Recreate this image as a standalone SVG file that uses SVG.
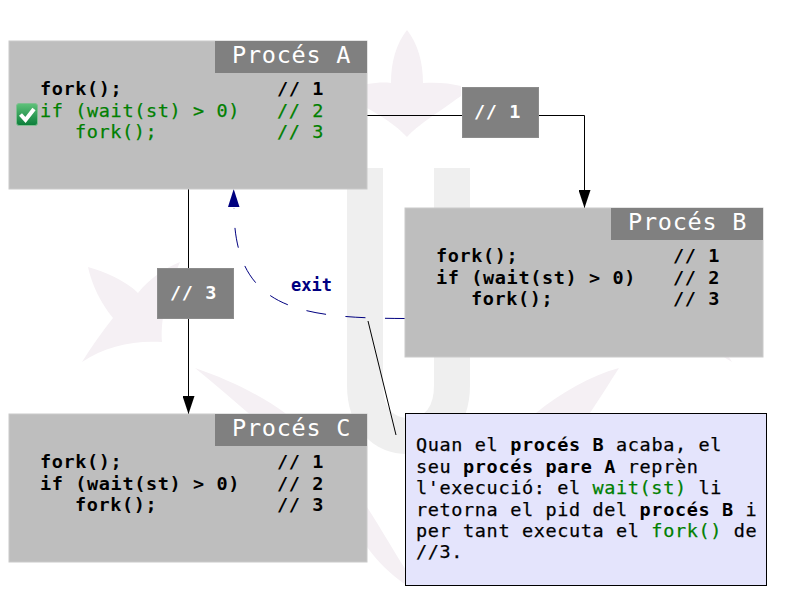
<svg xmlns="http://www.w3.org/2000/svg" width="786" height="609" viewBox="0 0 786 609">
<style>
text{font-family:"DejaVu Sans Mono","Liberation Mono",monospace;white-space:pre}
.box{fill:#bebebe;stroke:#cacaca;stroke-width:1}
.title{fill:#808080}
.tt{fill:#fff;font-size:23.500px;letter-spacing:.75px}
.c{font-size:18.500px;letter-spacing:.63px;font-weight:700;fill:#000}
.g{font-weight:400;fill:#008000;stroke:#008000;stroke-width:.25px}
.lab{fill:#808080;stroke:#8c8c8c;stroke-width:1}
.lt{fill:#fff;font-size:18.500px;letter-spacing:.63px;font-weight:700}
.wm{fill:#f5f0f4}
.u{fill:none;stroke:#efefef;stroke-width:36}
.n{font-size:18.500px;letter-spacing:.63px;fill:#000;stroke:#000;stroke-width:.25px}
.b{font-weight:700;stroke:none}
</style>
<defs>
<marker id="ab" markerUnits="userSpaceOnUse" markerWidth="18" markerHeight="12" refX="18" refY="6" orient="auto"><path d="M0,0L18,6L0,12Z" fill="#000"/></marker>
<linearGradient id="gr" x1="0" y1="0" x2="0" y2="1"><stop offset="0" stop-color="#5fc27a"/><stop offset="1" stop-color="#0b7d3a"/></linearGradient>
</defs>
<g id="watermark">
<path class="u" d="M365,168V385C365,420 385,436 408,436C432,436 452,420 452,385V168"/>
<path class="wm" d="M407,30C396,44 391,62 391,83C383,82 375,83 367,84V108C381,116 396,125 407,137C418,125 433,116 461,96L461,86C450,83 436,82 423,83C423,62 418,44 407,30Z"/>
<path class="wm" d="M88,267C105,272 125,280 138,293C150,278 165,268 180,262C170,285 160,315 162,342C135,340 105,346 82,362C92,346 102,332 113,318C100,302 92,285 88,267Z"/>
<path class="wm" d="M726,267C709,272 689,280 676,293C664,278 649,268 634,262C644,285 654,315 652,342C679,340 709,346 732,362C722,346 712,332 701,318C714,302 722,285 726,267Z"/>
<path class="wm" d="M195,368C230,380 262,396 285,413L367,507C382,530 394,552 406,570V585C390,574 378,562 367,547L280,440C250,415 222,390 195,368Z"/>
<path class="wm" d="M619,368C590,376 562,392 536,413H590C600,398 610,382 619,368Z"/>
</g>
<g id="connectors" fill="none" stroke="#000" stroke-width="1">
<path d="M367,115.500H584.500V208" marker-end="url(#ab)"/>
<path d="M188.500,189V414" marker-end="url(#ab)"/>
<path d="M405,318.500C300,318 234,310 234,208" stroke="#000080" stroke-dasharray="20 19.500"/>
<path d="M228,207L233.700,189L239.500,207Z" fill="#000080" stroke="none"/>
<path d="M368,321L396,435"/>
<text class="c" x="291" y="291" style="font-size:17px;letter-spacing:0;fill:#000080;stroke:none">exit</text>
</g>
<g id="proces-a">
<rect class="box" x="9" y="41" width="358" height="148"/>
<rect class="title" x="215" y="41" width="152" height="32"/>
<text class="tt" x="232" y="63">Procés A</text>
<text class="c" x="40" y="95">fork();</text><text class="c" x="277" y="95">// 1</text>
<text class="c g" x="40" y="116.500">if (wait(st) &gt; 0)</text><text class="c g" x="277" y="116.500">// 2</text>
<text class="c g" x="75" y="138">fork();</text><text class="c g" x="277" y="138">// 3</text>
<g id="check"><rect x="16.500" y="103.500" width="21" height="22" rx="2.500" fill="url(#gr)" stroke="#7fbf90"/><path d="M20.500,114.500L25.500,120L34,109" fill="none" stroke="#fff" stroke-width="4"/></g>
</g>
<g id="proces-b">
<rect class="box" x="405" y="208" width="358" height="149"/>
<rect class="title" x="611" y="208" width="152" height="32"/>
<text class="tt" x="628" y="230">Procés B</text>
<text class="c" x="436" y="262">fork();</text><text class="c" x="673" y="262">// 1</text>
<text class="c" x="436" y="283.500">if (wait(st) &gt; 0)</text><text class="c" x="673" y="283.500">// 2</text>
<text class="c" x="471" y="305">fork();</text><text class="c" x="673" y="305">// 3</text>
</g>
<g id="proces-c">
<rect class="box" x="9" y="414" width="358" height="148"/>
<rect class="title" x="215" y="414" width="152" height="32"/>
<text class="tt" x="232" y="436">Procés C</text>
<text class="c" x="40" y="468">fork();</text><text class="c" x="277" y="468">// 1</text>
<text class="c" x="40" y="489.500">if (wait(st) &gt; 0)</text><text class="c" x="277" y="489.500">// 2</text>
<text class="c" x="75" y="511">fork();</text><text class="c" x="277" y="511">// 3</text>
</g>
<g id="label-1"><rect class="lab" x="462.500" y="87.500" width="76" height="50"/><text class="lt" x="474" y="118">// 1</text></g>
<g id="label-3"><rect class="lab" x="157.500" y="268.500" width="76" height="50"/><text class="lt" x="170" y="299">// 3</text></g>
<g id="note">
<rect x="405.500" y="413.500" width="361" height="172" fill="#e4e4fc" stroke="#000"/>
<text class="n" x="416" y="451">Quan el <tspan class="b">procés B</tspan> acaba, el</text>
<text class="n" x="416" y="472.500">seu <tspan class="b">procés pare A</tspan> reprèn</text>
<text class="n" x="416" y="494">l'execució: el <tspan class="g">wait(st)</tspan> li</text>
<text class="n" x="416" y="515.500">retorna el pid del <tspan class="b">procés B</tspan> i</text>
<text class="n" x="416" y="537">per tant executa el <tspan class="g">fork()</tspan> de</text>
<text class="n" x="416" y="558">//3.</text>
</g>
</svg>
